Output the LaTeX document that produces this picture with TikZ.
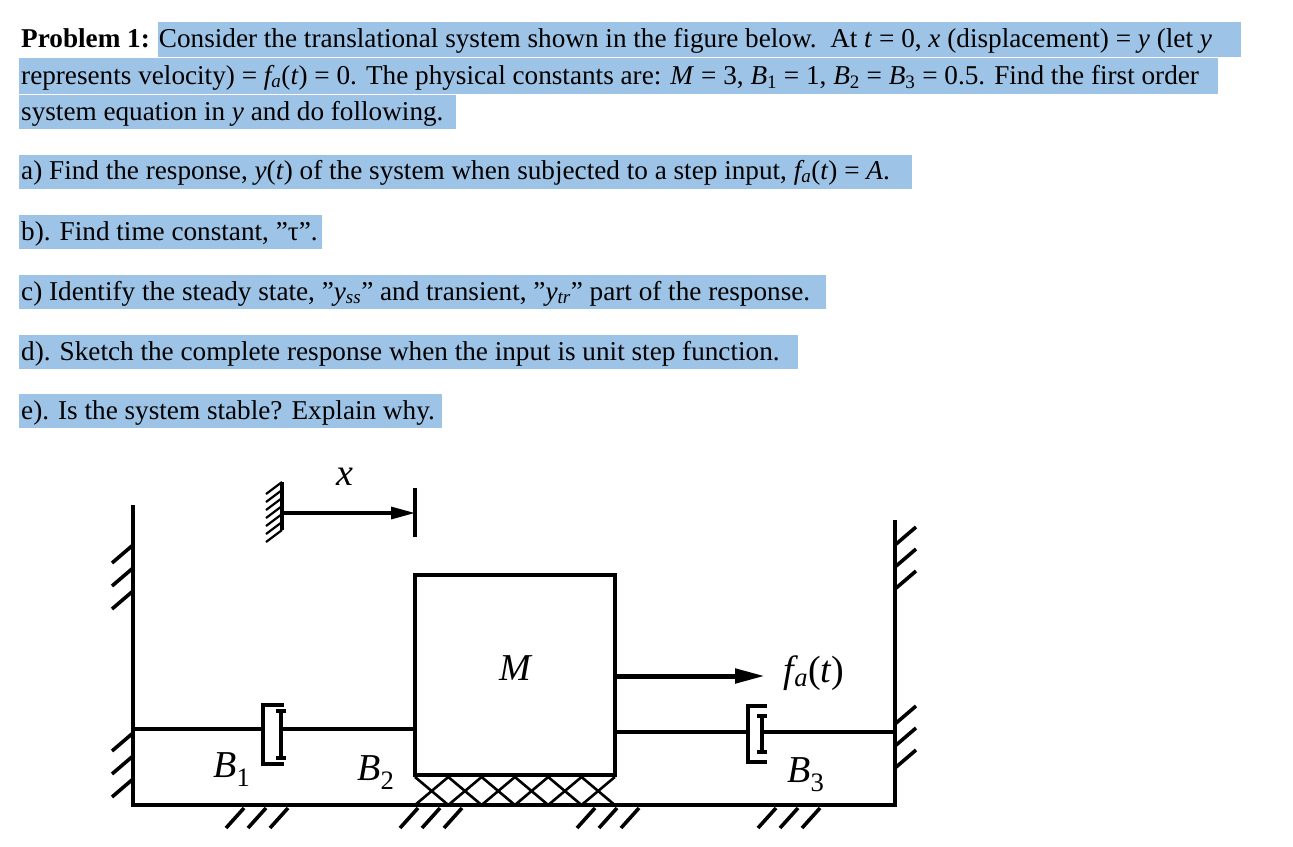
\documentclass[tikz,border=0pt]{standalone}
\usepackage{fontspec}
\setmainfont{Liberation Serif}
\usetikzlibrary{arrows.meta}
\definecolor{hl}{HTML}{9DC3E6}
\newcommand{\qq}{\symbol{34}}
\begin{document}
\begin{tikzpicture}[x=1pt,y=-1pt,
  txt/.style={anchor=base west,inner sep=0pt,font=\fontsize{27.2}{32}\selectfont},
  lin/.style={line width=3.2pt},
  hat/.style={line width=3.6pt},
  lab/.style={font=\fontsize{38}{44}\selectfont\itshape,inner sep=0pt}]
\useasboundingbox (0,0) rectangle (1293,846);
% highlights
\fill[hl] (158,22) rectangle (1241,57);
\fill[hl] (19,58) rectangle (1218,94);
\fill[hl] (19,95) rectangle (456,129);
\fill[hl] (19,155) rectangle (912,189);
\fill[hl] (19,215) rectangle (322,249);
\fill[hl] (19,275) rectangle (826,309);
\fill[hl] (19,335) rectangle (798,369);
\fill[hl] (19,394) rectangle (442,428);
% text
\node[txt] (t1) at (21,47) {\textbf{Problem 1:} Consider the translational system shown in the figure below.\ \ At \textit{t} = 0, \textit{x} (displacement) = \textit{y} (let \textit{y}};
\node[txt] (t2) at (21,84) {represents velocity) = \textit{f\textsubscript{a}}(\textit{t}) = 0. The physical constants are: \textit{M} = 3, \textit{B}\textsubscript{1} = 1, \textit{B}\textsubscript{2} = \textit{B}\textsubscript{3} = 0.5. Find the first order};
\node[txt] (t3) at (21,120) {system equation in \textit{y} and do following.};
\node[txt] (ta) at (21,179) {a) Find the response, \textit{y}(\textit{t}) of the system when subjected to a step input, \textit{f\textsubscript{a}}(\textit{t}) = \textit{A}.};
\node[txt] (tb) at (21,240) {b). Find time constant, \qq τ\qq.};
\node[txt] (tc) at (21,300) {c) Identify the steady state, \qq\textit{y\textsubscript{ss}}\qq\ and transient, \qq\textit{y\textsubscript{tr}}\qq\ part of the response.};
\node[txt] (td) at (21,360) {d). Sketch the complete response when the input is unit step function.};
\node[txt] (te) at (21,419) {e). Is the system stable? Explain why.};
% frame
\draw[lin] (133,505) -- (133,805) -- (895,805) -- (895,520);
% left wall hatches
\foreach \y in {545,568,591} \draw[hat] (133,\y) -- (112,\y+18);
\foreach \y in {733,756,779} \draw[hat] (133,\y) -- (112,\y+18);
% right wall hatches
\foreach \y in {533,555,577} \draw[hat] (895,\y+12) -- (916,\y-6);
\foreach \y in {712,734,756} \draw[hat] (895,\y+12) -- (916,\y-6);
% ground hatches
\foreach \x in {226,248,270} \draw[hat] (\x,828) -- (\x+18,808);
\foreach \x in {400,422,444} \draw[hat] (\x,828) -- (\x+18,808);
\foreach \x in {577,599,621} \draw[hat] (\x,828) -- (\x+18,808);
\foreach \x in {758,780,802} \draw[hat] (\x,828) -- (\x+18,808);
% mass
\node[draw,line width=3.2pt,minimum width=200pt,minimum height=200pt,inner sep=0pt] (M) at (515,675) {};
\node[lab] (Ml) at (515,668) {M};
% rollers
\foreach \i in {0,...,5} {
  \draw[line width=2.6pt] (415+\i*33.3,777) -- (415+\i*33.3+33.3,805);
  \draw[line width=2.6pt] (415+\i*33.3+33.3,777) -- (415+\i*33.3,805);
}
% displacement reference
\draw[lin] (282,482) -- (282,530);
\foreach \y in {482,490,...,530} \draw[line width=2.2pt] (282,\y) -- (266,\y+12);
\coordinate (xs) at (282,513);
\coordinate (xe) at (415,513);
\draw[lin,-{Triangle[length=24pt,width=12pt]}] (xs) -- (xe);
\draw[lin] (415,488) -- (415,537);
\node[lab] (xl) at (345,477) {x};
% damper B1
\draw[lin] (133,729) -- (263,729);
\draw[lin] (284,705) -- (263,705) -- (263,764) -- (284,764);
\draw[lin] (281,729) -- (415,729);
\draw[lin] (281,711) -- (281,758);
\draw[lin] (276,711) -- (286,711);
\draw[lin] (276,758) -- (286,758);
\node[lab] (B1) at (232,770) {B\textsubscript{\upshape 1}};
\node[lab] (B2) at (376,773) {B\textsubscript{\upshape 2}};
% damper B3
\draw[lin] (615,732) -- (748,732);
\draw[lin] (767,706) -- (748,706) -- (748,762) -- (767,762);
\draw[lin] (762,732) -- (895,732);
\draw[lin] (762,716) -- (762,752);
\draw[lin] (757,716) -- (767,716);
\draw[lin] (757,752) -- (767,752);
\node[lab] (B3) at (806,775) {B\textsubscript{\upshape 3}};
% force
\coordinate (fs) at (615,676);
\coordinate (fe) at (765,676);
\draw[line width=5pt,-{Triangle[length=30pt,width=14pt]}] (fs) -- (fe);
\node[lab] (fl) at (814,673) {f\textsubscript{a}\upshape(\itshape t\upshape)};
\end{tikzpicture}
\end{document}
